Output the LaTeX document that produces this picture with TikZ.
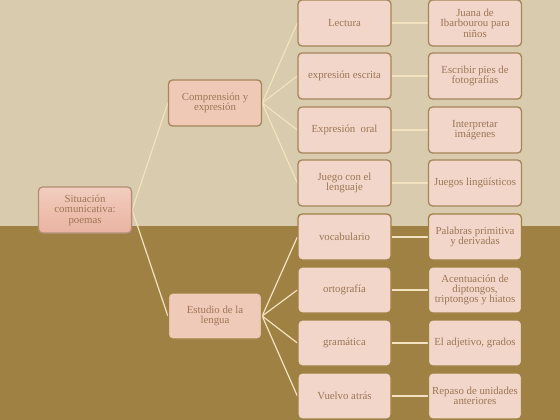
\documentclass[tikz,border=0pt]{standalone}
\usepackage{fontspec}
\setmainfont{Liberation Serif}
\usetikzlibrary{shadows,backgrounds}
\definecolor{bgtop}{HTML}{D9CBAD}
\definecolor{bgbot}{HTML}{9F8144}
\definecolor{boxfill}{HTML}{F1D6C9}
\definecolor{boxline}{HTML}{A5855A}
\definecolor{txt}{HTML}{9E7656}
\definecolor{conn}{HTML}{F3E2BF}
\definecolor{sittop}{HTML}{F2CDBF}
\definecolor{sitbot}{HTML}{EAB3A1}
\definecolor{sitline}{HTML}{B38E74}
\definecolor{compfill}{HTML}{F0C9B6}
\definecolor{estfill}{HTML}{F0CAB8}
\begin{document}
\begin{tikzpicture}[x=1pt,y=-1pt,
  box/.style={draw=boxline, line width=1.3pt, fill=boxfill, rounded corners=4pt,
    minimum width=93pt, minimum height=46pt, inner sep=1pt, align=center,
    text=txt, font=\fontsize{10.8}{10.4}\selectfont},
  boxb/.style={box, draw=bgbot},
  conn/.style={draw=conn, line width=1.2pt}]
\useasboundingbox (0,0) rectangle (560,420);

\node[box, draw=sitline, top color=sittop, bottom color=sitbot, drop shadow={opacity=0.35, shadow xshift=0.8pt, shadow yshift=-1.2pt}] (sit) at (85,210) {Situación\\comunicativa:\\poemas};
\node[box, fill=compfill] (comp) at (215,103) {Comprensión y\\expresión};
\node[boxb, fill=estfill] (est) at (215,316) {Estudio de la\\lengua};

\node[box] (lec) at (344.5,23) {Lectura};
\node[box] (esc) at (344.5,76) {expresión escrita};
\node[box] (ora) at (344.5,130) {Expresión\ \ oral};
\node[box] (jue) at (344.5,183) {Juego con el\\lenguaje};
\node[boxb] (voc) at (344.5,237) {vocabulario};
\node[boxb] (ort) at (344.5,290) {ortografía};
\node[boxb] (gra) at (344.5,343) {gramática};
\node[boxb] (vue) at (344.5,396) {Vuelvo atrás};

\node[box] (jua) at (475,23) {Juana de\\Ibarbourou para\\niños};
\node[box] (pie) at (475,76) {Escribir pies de\\fotografías};
\node[box] (img) at (475,130) {Interpretar\\imágenes};
\node[box] (jlg) at (475,183) {Juegos lingüísticos};
\node[boxb] (pal) at (475,237) {Palabras primitiva\\y derivadas};
\node[boxb] (ace) at (475,290) {Acentuación de\\diptongos,\\triptongos y hiatos};
\node[boxb] (adj) at (475,343) {El adjetivo, grados};
\node[boxb] (rep) at (475,396) {Repaso de unidades\\anteriores};

\begin{scope}[on background layer]
\fill[bgtop] (0,0) rectangle (560,226);
\fill[bgbot] (0,226) rectangle (560,420);
\draw[conn] (sit.east) -- (comp.west);
\draw[conn] (sit.east) -- (est.west);
\foreach \n in {lec,esc,ora,jue} \draw[conn] (comp.east) -- (\n.west);
\foreach \n in {voc,ort,gra,vue} \draw[conn] (est.east) -- (\n.west);
\draw[conn] (lec) -- (jua);
\draw[conn] (esc) -- (pie);
\draw[conn] (ora) -- (img);
\draw[conn] (jue) -- (jlg);
\draw[conn] (voc) -- (pal);
\draw[conn] (ort) -- (ace);
\draw[conn] (gra) -- (adj);
\draw[conn] (vue) -- (rep);
\end{scope}
\end{tikzpicture}
\end{document}
